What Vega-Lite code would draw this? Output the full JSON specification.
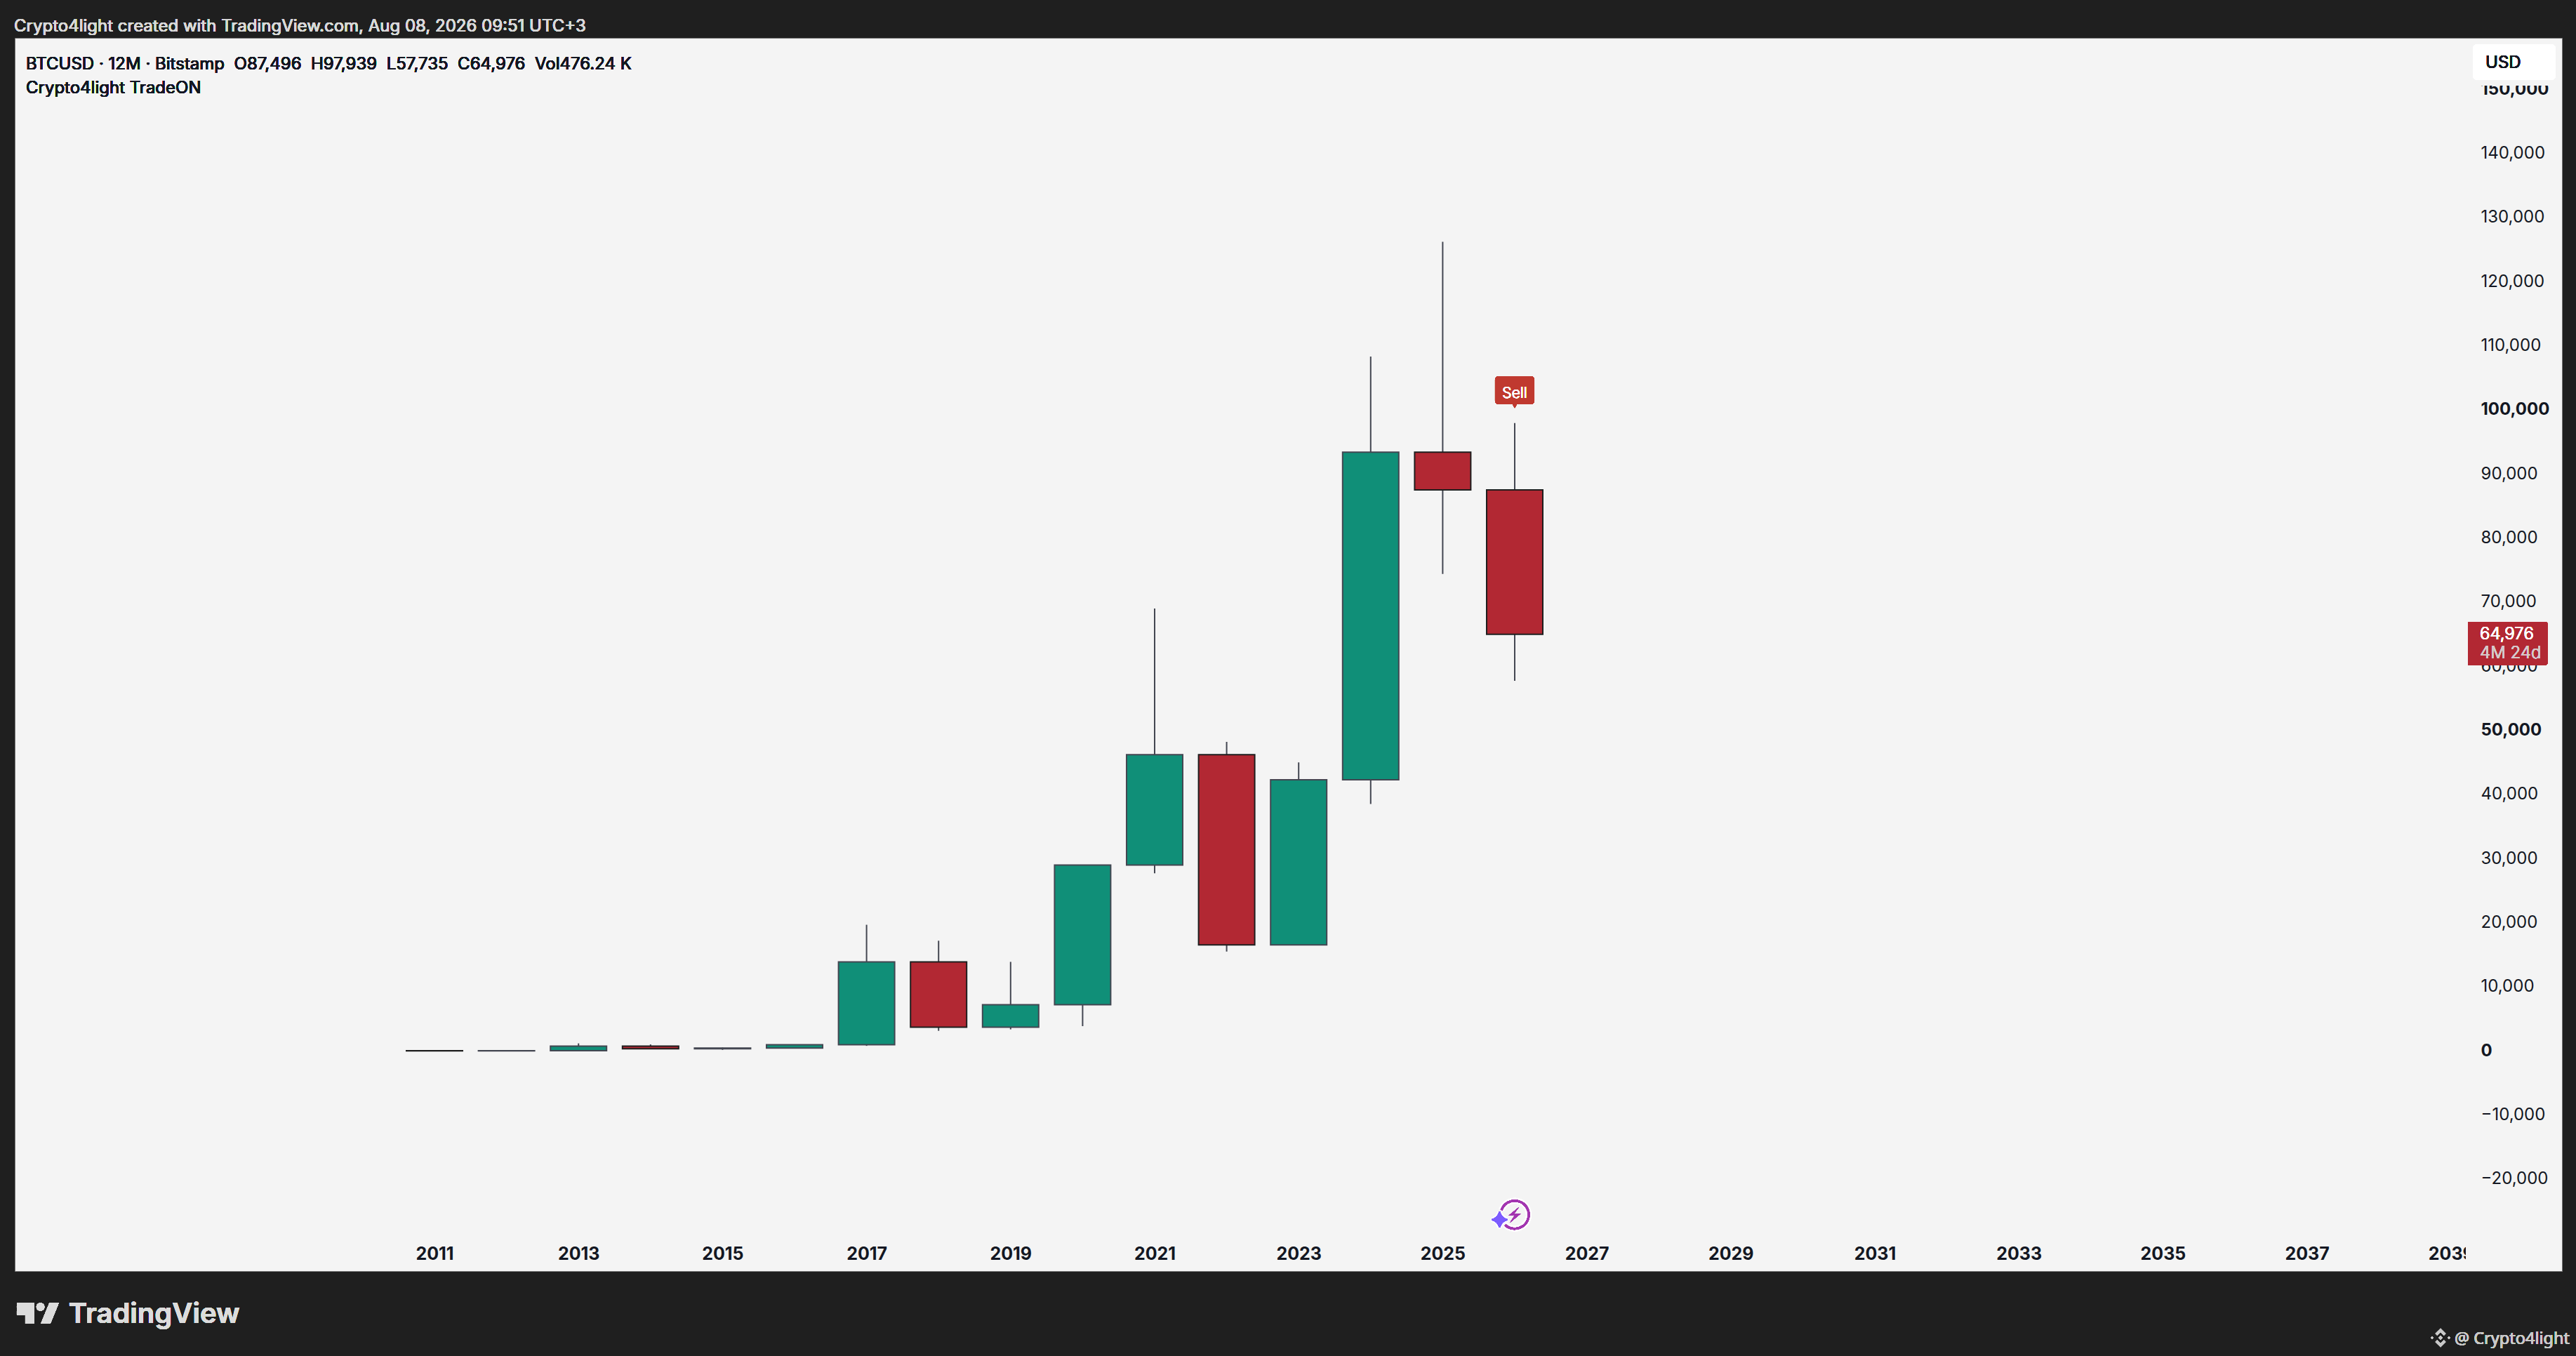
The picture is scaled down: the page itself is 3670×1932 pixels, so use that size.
{
  "$schema": "https://vega.github.io/schema/vega-lite/v6.json",
  "width": 3629,
  "height": 1757,
  "autosize": {"type": "none"},
  "padding": {"left": 21, "top": 54, "right": 20, "bottom": 121},
  "background": "#1f1f1f",
  "view": {"fill": "#f4f4f4", "stroke": "#777777", "strokeWidth": 1},
  "config": {"axis": {"grid": false, "title": null}, "text": {"font": "Inter", "fontWeight": 400}},
  "datasets": {
    "candles": [
      {"year": 2011, "open": 10.9, "high": 32, "low": 2.2, "close": 4.7},
      {"year": 2012, "open": 4.7, "high": 16, "low": 4, "close": 13.5},
      {"year": 2013, "open": 13.5, "high": 1163, "low": 13, "close": 732},
      {"year": 2014, "open": 732, "high": 1000, "low": 280, "close": 320},
      {"year": 2015, "open": 320, "high": 500, "low": 152, "close": 430},
      {"year": 2016, "open": 430, "high": 980, "low": 360, "close": 963},
      {"year": 2017, "open": 963, "high": 19666, "low": 775, "close": 13880},
      {"year": 2018, "open": 13880, "high": 17176, "low": 3122, "close": 3693},
      {"year": 2019, "open": 3693, "high": 13880, "low": 3350, "close": 7195},
      {"year": 2020, "open": 7195, "high": 29000, "low": 3850, "close": 28990},
      {"year": 2021, "open": 28990, "high": 69000, "low": 27700, "close": 46200},
      {"year": 2022, "open": 46200, "high": 48200, "low": 15500, "close": 16540},
      {"year": 2023, "open": 16540, "high": 45000, "low": 16500, "close": 42280},
      {"year": 2024, "open": 42280, "high": 108300, "low": 38500, "close": 93400},
      {"year": 2025, "open": 93400, "high": 126200, "low": 74400, "close": 87496},
      {"year": 2026, "open": 87496, "high": 97939, "low": 57735, "close": 64976}
    ]
  },
  "data": {"name": "candles"},
  "layer": [
    {
      "mark": {"type": "rule", "stroke": "#434651", "strokeWidth": 2},
      "encoding": {
        "x": {
          "field": "year",
          "type": "quantitative",
          "scale": {"domain": [2005.1715, 2040.542], "nice": false, "zero": false, "padding": 0},
          "axis": {
            "values": [2011, 2013, 2015, 2017, 2019, 2021, 2023, 2025, 2027, 2029, 2031, 2033, 2035, 2037, 2039],
            "format": "d",
            "orient": "bottom",
            "domain": false,
            "ticks": false,
            "labelPadding": -25,
            "labelBaseline": "middle",
            "labelFont": "Inter",
            "labelFontSize": 25,
            "labelFontWeight": "bold",
            "labelColor": "#131722",
            "labelOverlap": false,
            "labelFlush": false,
            "labelBound": false
          }
        },
        "y": {
          "field": "low",
          "type": "quantitative",
          "scale": {"domain": [-34359, 158020], "nice": false, "zero": false, "padding": 0},
          "axis": {
            "values": [-20000, -10000, 0, 10000, 20000, 30000, 40000, 50000, 60000, 70000, 80000, 90000, 100000, 110000, 120000, 130000, 140000, 150000],
            "format": ",d",
            "orient": "right",
            "domain": false,
            "ticks": false,
            "labelAlign": "left",
            "labelPadding": -116,
            "labelFont": "Inter",
            "labelFontSize": 24,
            "labelFontWeight": {"expr": "datum.value % 50000 === 0 ? 'bold' : 'normal'"},
            "labelColor": "#131722",
            "labelOverlap": false,
            "labelFlush": false,
            "labelBound": false
          }
        },
        "y2": {"field": "high"}
      }
    },
    {
      "mark": {"type": "bar", "size": 80, "strokeWidth": 2, "orient": "vertical"},
      "encoding": {
        "x": {"field": "year", "type": "quantitative"},
        "y": {"field": "open", "type": "quantitative"},
        "y2": {"field": "close"},
        "fill": {"condition": {"test": "datum.close >= datum.open", "value": "#108f78"}, "value": "#b22833"},
        "stroke": {"condition": {"test": "datum.close >= datum.open", "value": "#434651"}, "value": "#1e1e1e"}
      }
    },
    {
      "mark": {"type": "rect", "fill": "#f4f4f4"},
      "encoding": {
        "x": {"datum": 2039.207},
        "x2": {"datum": 2040.494},
        "y": {"datum": -29877},
        "y2": {"datum": -33155}
      }
    },
    {
      "mark": {"type": "rect", "fill": "#f4f4f4"},
      "encoding": {
        "x": {"datum": 2039.275},
        "x2": {"datum": 2040.523},
        "y": {"datum": 157349},
        "y2": {"datum": 150606}
      }
    },
    {
      "mark": {"type": "rect", "fill": "#ffffff", "cornerRadius": 6},
      "encoding": {
        "x": {"datum": 2039.304},
        "x2": {"datum": 2040.454},
        "y": {"datum": 157021},
        "y2": {"datum": 151437}
      }
    },
    {
      "mark": {"type": "text", "text": "USD", "align": "left", "baseline": "middle", "fontSize": 24, "fill": "#131722"},
      "encoding": {"x": {"datum": 2039.48}, "y": {"datum": 154129}}
    },
    {
      "mark": {"type": "rect", "fill": "#b22833", "cornerRadiusTopRight": 4, "cornerRadiusBottomRight": 4},
      "encoding": {
        "x": {"datum": 2039.236},
        "x2": {"datum": 2040.347},
        "y": {"datum": 66923},
        "y2": {"datum": 60166}
      }
    },
    {
      "mark": {"type": "text", "text": "64,976", "align": "left", "baseline": "middle", "fontSize": 24, "fontWeight": 300, "fill": "#ffffff"},
      "encoding": {"x": {"datum": 2039.402}, "y": {"datum": 64976}}
    },
    {
      "mark": {"type": "text", "text": "4M 24d", "align": "left", "baseline": "middle", "fontSize": 24, "fontWeight": 300, "fill": "#d6c8ca"},
      "encoding": {"x": {"datum": 2039.402}, "y": {"datum": 61940}}
    },
    {
      "mark": {"type": "rect", "fill": "#c0392f", "cornerRadius": 5},
      "encoding": {
        "x": {"datum": 2025.727},
        "x2": {"datum": 2026.273},
        "y": {"datum": 105244},
        "y2": {"datum": 100864}
      }
    },
    {
      "mark": {"type": "point", "shape": "triangle-down", "filled": true, "fill": "#c0392f", "opacity": 1, "size": 100},
      "encoding": {"x": {"datum": 2026}, "y": {"datum": 100754}}
    },
    {
      "mark": {"type": "text", "text": "Sell", "align": "center", "baseline": "middle", "fontSize": 21, "fontWeight": 300, "fill": "#ffffff"},
      "encoding": {"x": {"datum": 2026}, "y": {"datum": 102536}}
    },
    {
      "mark": {"type": "point", "shape": "M -0.94 -0.34 A 1 1 0 1 1 -0.68 0.73", "filled": false, "stroke": "#ffffff", "strokeWidth": 8, "opacity": 1, "size": 1600},
      "encoding": {"x": {"datum": 2026}, "y": {"datum": -25567}}
    },
    {
      "mark": {"type": "point", "shape": "M -0.94 -0.34 A 1 1 0 1 1 -0.68 0.73", "filled": false, "stroke": "#a336b0", "strokeWidth": 3, "opacity": 1, "size": 1600},
      "encoding": {"x": {"datum": 2026}, "y": {"datum": -25567}}
    },
    {
      "mark": {"type": "point", "shape": "M 0.3 -0.53 L -0.42 0.05 L 0 0.05 L -0.33 0.55 L 0.42 -0.07 L -0.05 -0.07 Z", "filled": true, "fill": "#a336b0", "opacity": 1, "size": 1600},
      "encoding": {"x": {"datum": 2026}, "y": {"datum": -25567}}
    },
    {
      "mark": {"type": "point", "shape": "M 0 -1 Q 0.2 -0.2 1 0 Q 0.2 0.2 0 1 Q -0.2 0.2 -1 0 Q -0.2 -0.2 0 -1 Z", "filled": true, "fill": "#ffffff", "stroke": "#ffffff", "strokeWidth": 6, "opacity": 1, "size": 484},
      "encoding": {"x": {"datum": 2025.79}, "y": {"datum": -26333}}
    },
    {
      "mark": {"type": "point", "shape": "M 0 -1 Q 0.2 -0.2 1 0 Q 0.2 0.2 0 1 Q -0.2 0.2 -1 0 Q -0.2 -0.2 0 -1 Z", "filled": true, "fill": "#7c5cff", "stroke": "#7c5cff", "strokeWidth": 1.5, "opacity": 1, "size": 484},
      "encoding": {"x": {"datum": 2025.79}, "y": {"datum": -26333}}
    },
    {
      "mark": {"type": "text", "text": "Crypto4light created with TradingView.com, Aug 08, 2026 09:51 UTC+3", "align": "left", "baseline": "middle", "fontSize": 24, "fill": "#d8d8d8"},
      "encoding": {"x": {"datum": 2005.162}, "y": {"datum": 159813}}
    },
    {
      "mark": {"type": "text", "text": "BTCUSD · 12M · Bitstamp\u00a0\u00a0O87,496\u00a0\u00a0H97,939\u00a0\u00a0L57,735\u00a0\u00a0C64,976\u00a0\u00a0Vol476.24\u00a0K", "align": "left", "baseline": "middle", "fontSize": 24, "fill": "#131722"},
      "encoding": {"x": {"datum": 2005.327}, "y": {"datum": 153910}}
    },
    {
      "mark": {"type": "text", "text": "Crypto4light TradeON", "align": "left", "baseline": "middle", "fontSize": 24, "fill": "#131722"},
      "encoding": {"x": {"datum": 2005.327}, "y": {"datum": 150187}}
    },
    {
      "mark": {"type": "point", "shape": "M -1 -0.5 L -0.19 -0.5 L -0.19 0.5 L -0.6 0.5 L -0.6 0.09 L -1 0.09 Z M 0.55 -0.5 L 1 -0.5 L 0.59 0.5 L 0.14 0.5 Z M -0.07 -0.3 A 0.19 0.19 0 1 0 0.31 -0.3 A 0.19 0.19 0 1 0 -0.07 -0.3 Z", "filled": true, "fill": "#dcdcdc", "opacity": 1, "size": 3600},
      "encoding": {"x": {"datum": 2005.493}, "y": {"datum": -40929}}
    },
    {
      "mark": {"type": "text", "text": "TradingView", "align": "left", "baseline": "middle", "fontSize": 40, "fontWeight": 600, "fill": "#dcdcdc"},
      "encoding": {"x": {"datum": 2005.92}, "y": {"datum": -41093}}
    },
    {
      "mark": {"type": "point", "shape": "M 0 -0.95 L 0.52 -0.43 L 0.33 -0.24 L 0 -0.57 L -0.33 -0.24 L -0.52 -0.43 Z M 0 0.95 L 0.52 0.43 L 0.33 0.24 L 0 0.57 L -0.33 0.24 L -0.52 0.43 Z M 0 -0.19 L 0.19 0 L 0 0.19 L -0.19 0 Z M -0.86 -0.14 L -0.72 0 L -0.86 0.14 L -1 0 Z M 0.86 -0.14 L 1 0 L 0.86 0.14 L 0.72 0 Z", "filled": true, "fill": "#c8c8c8", "opacity": 1, "size": 784},
      "encoding": {"x": {"datum": 2038.856}, "y": {"datum": -44762}}
    },
    {
      "mark": {"type": "text", "text": "@ Crypto4light", "align": "left", "baseline": "middle", "fontSize": 23.5, "font": "Noto Sans", "fill": "#c8c8c8"},
      "encoding": {"x": {"datum": 2039.051}, "y": {"datum": -44926}}
    }
  ]
}
